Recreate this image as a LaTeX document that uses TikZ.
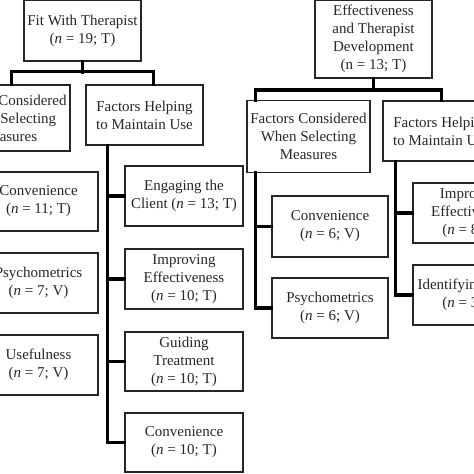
\documentclass[tikz,border=0pt]{standalone}
\usepackage{fontspec}
\setmainfont{Liberation Serif}
\begin{document}
\begin{tikzpicture}[x=1pt,y=-1pt,
  box/.style={draw=black!85, line width=1.2pt, inner sep=0pt, align=center,
    font=\fontsize{15}{18}\selectfont, text=black!85},
  conn/.style={draw=black, line width=3.6pt, line cap=rect}]
\useasboundingbox (0,0) rectangle (474,474);
\clip (0,0) rectangle (474,474);
% left tree
\node[box, minimum width=117pt, minimum height=61pt] (A) at (82.5,30.5) {Fit With Therapist\\(\textit{n} = 19; T)};
\node[box, minimum width=123pt, minimum height=66pt] (C) at (8.5,118) {Factors Considered\\When Selecting\\Measures};
\node[box, minimum width=117pt, minimum height=60pt] (D) at (144.5,115) {Factors Helping\\to Maintain Use};
\node[box, minimum width=119pt, minimum height=59pt] (G) at (38.5,201.5) {Convenience\\(\textit{n} = 11; T)};
\node[box, minimum width=119pt, minimum height=60pt] (H) at (38.5,283) {Psychometrics\\(\textit{n} = 7; V)};
\node[box, minimum width=119pt, minimum height=60pt] (I) at (38.5,365) {Usefulness\\(\textit{n} = 7; V)};
\node[box, minimum width=118pt, minimum height=60pt] (J) at (184,196) {Engaging the\\Client (\textit{n} = 13; T)};
\node[box, minimum width=118pt, minimum height=60pt] (K) at (184,279) {Improving\\Effectiveness\\(\textit{n} = 10; T)};
\node[box, minimum width=118pt, minimum height=59pt] (L) at (184,361.5) {Guiding\\Treatment\\(\textit{n} = 10; T)};
\node[box, minimum width=118pt, minimum height=59pt] (M) at (184,442.5) {Convenience\\(\textit{n} = 10; T)};
% right tree
\node[box, minimum width=117pt, minimum height=78pt] (B) at (373.5,39) {Effectiveness\\and Therapist\\Development\\(n = 13; T)};
\node[box, minimum width=123pt, minimum height=72pt] (E) at (308.5,136.5) {Factors Considered\\When Selecting\\Measures};
\node[box, minimum width=117pt, minimum height=60pt] (F) at (441.5,131) {Factors Helping\\to Maintain Use};
\node[box, minimum width=116pt, minimum height=61pt] (N) at (330,226.5) {Convenience\\(\textit{n} = 6; V)};
\node[box, minimum width=116pt, minimum height=60pt] (O) at (330,308) {Psychometrics\\(\textit{n} = 6; V)};
\node[box, minimum width=117pt, minimum height=60pt] (P) at (471.5,213) {Improving\\Effectiveness\\(\textit{n} = 8; T)};
\node[box, minimum width=117pt, minimum height=60pt] (Q) at (471.5,295) {Identifying Needs\\(\textit{n} = 3; T)};
% connectors left tree
\draw[conn] (A.south) -- ++(0,11);
\draw[conn] ([xshift=65pt]C.north west) -- ++(0,-13) -| ([xshift=68pt]D.north west);
\draw[conn] ([xshift=9pt]C.south west) |- (G.west);
\draw[conn] ([xshift=9pt]C.south west) |- (H.west);
\draw[conn] ([xshift=9pt]C.south west) |- (I.west);
\draw[conn] ([xshift=22pt]D.south west) |- (J.west);
\draw[conn] ([xshift=22pt]D.south west) |- (K.west);
\draw[conn] ([xshift=22pt]D.south west) |- (L.west);
\draw[conn] ([xshift=22pt]D.south west) |- (M.west);
% connectors right tree
\draw[conn] (B.south) -- ++(0,12);
\draw[conn] ([xshift=9pt]E.north west) -- ++(0,-10) -| (F.north);
\draw[conn] ([xshift=9pt]E.south west) |- (N.west);
\draw[conn] ([xshift=9pt]E.south west) |- (O.west);
\draw[conn] ([xshift=13pt]F.south west) |- (P.west);
\draw[conn] ([xshift=13pt]F.south west) |- (Q.west);
\end{tikzpicture}
\end{document}
